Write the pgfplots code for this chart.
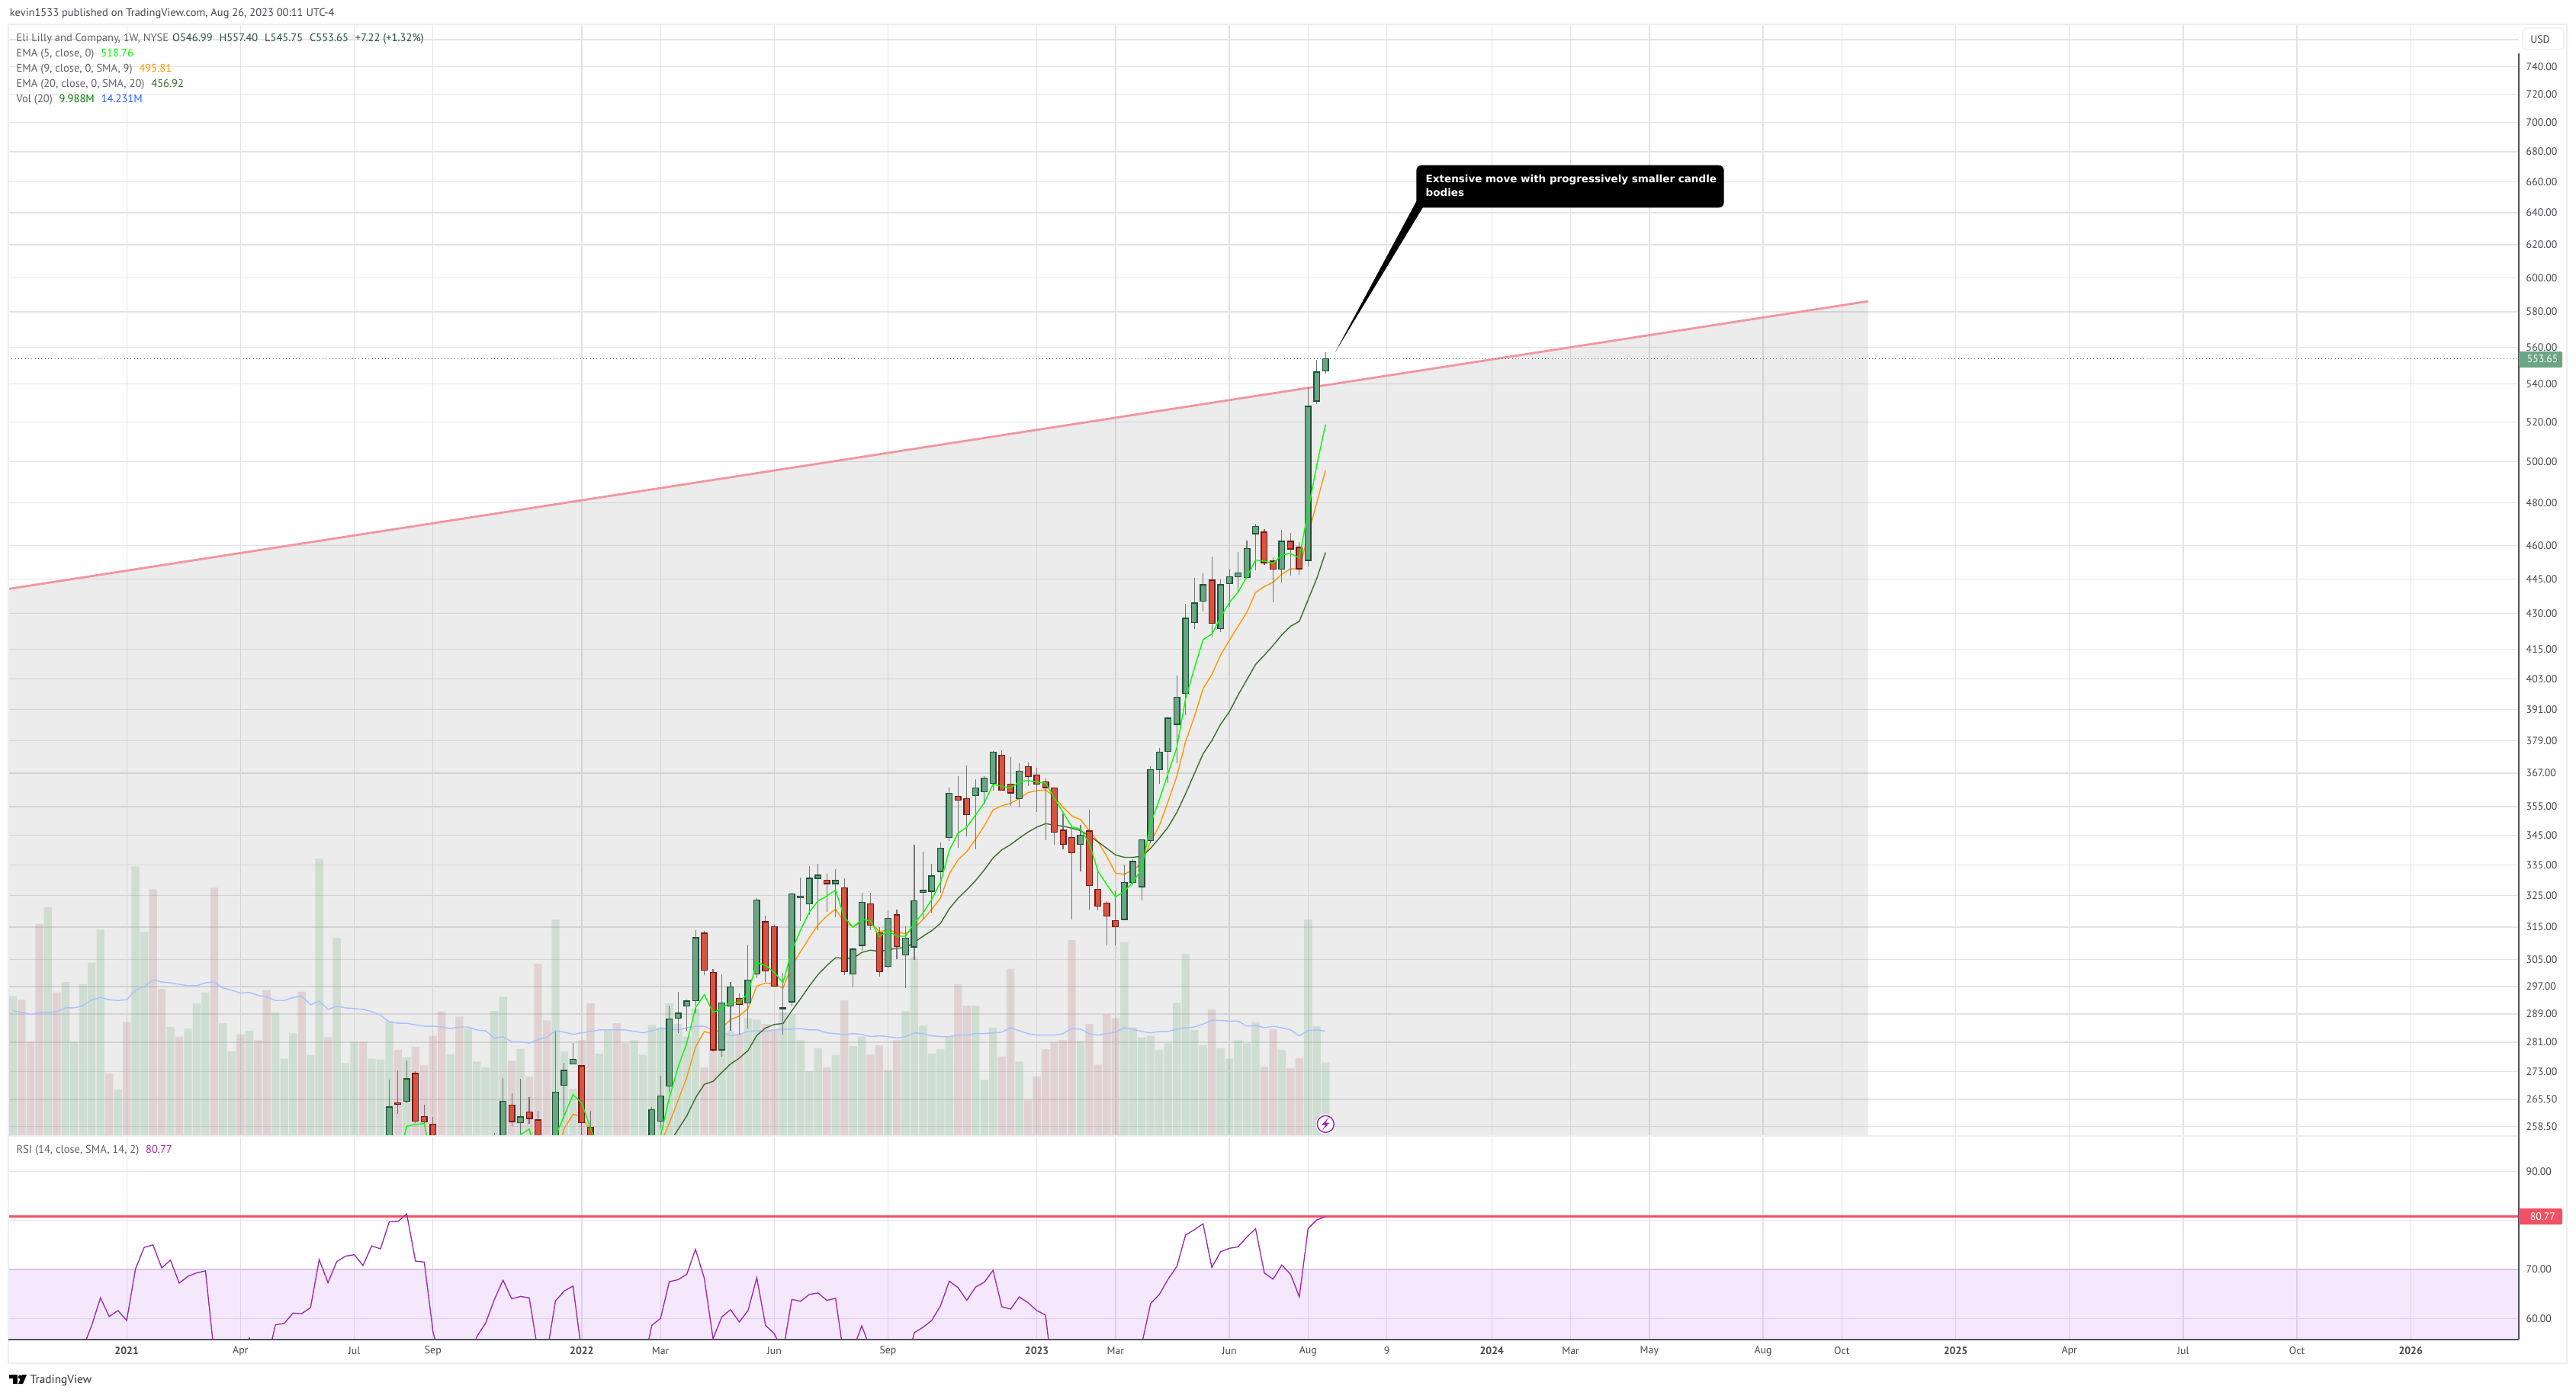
\documentclass[border=0pt]{standalone}
\usepackage{fontspec}
\setmainfont{PT Sans}
\newfontfamily\calloutfont{DejaVu Sans}
\usepackage{pgfplots}
\pgfplotsset{compat=1.18}
\definecolor{gridc}{RGB}{228,228,232}
\definecolor{txt}{RGB}{70,72,80}
\definecolor{axisc}{RGB}{80,83,94}
\definecolor{frame}{RGB}{236,238,245}
\definecolor{upf}{RGB}{107,165,131}
\definecolor{upb}{RGB}{30,83,55}
\definecolor{dnf}{RGB}{215,84,66}
\definecolor{dnb}{RGB}{115,25,20}
\definecolor{wick}{RGB}{115,115,120}
\definecolor{volg}{RGB}{86,166,106}
\definecolor{volr}{RGB}{176,106,111}
\definecolor{volma}{RGB}{41,98,255}
\definecolor{ema5}{RGB}{0,255,0}
\definecolor{ema9}{RGB}{255,152,0}
\definecolor{ema20}{RGB}{60,110,40}
\definecolor{rsi}{RGB}{156,39,176}
\definecolor{band}{RGB}{145,0,235}
\definecolor{rsired}{RGB}{242,80,100}
\definecolor{pink}{RGB}{242,150,160}
\newcommand{\smallf}{\fontsize{4.15pt}{5pt}\selectfont}
\newcommand{\headf}{\fontsize{4.35pt}{5pt}\selectfont}
\pgfplotsset{
  base/.style={scale only axis,width=987.6pt,xmin=-0.523,xmax=286.36,
    axis line style={draw=none},major tick length=0pt,minor tick length=0pt,
    tick style={draw=none}},
  hidden/.style={base,xtick=\empty,ytick=\empty},
  gridst/.style={grid=major,grid style={draw=gridc,line width=0.4pt}},
  weeks/.style={xtick={13,26,39,48,65,74,87,100,117,126,139,148,157,169,178,187,200,209,222,235,248,261,274}},
}
% week, body bottom, body top, high, low
\newcommand{\cnd}[7]{%
  \pgfmathsetmacro\xa{#3-0.33}\pgfmathsetmacro\xb{#3+0.33}%
  \addplot[wick,line width=0.33pt,forget plot] coordinates {(#3,#6)(#3,#7)};
  \addplot[draw=#2,fill=#1,line width=0.42pt,forget plot] coordinates {(\xa,#4)(\xb,#4)(\xb,#5)(\xa,#5)} -- cycle;
}
\newcommand{\U}[5]{\cnd{upf}{upb}{#1}{#2}{#3}{#4}{#5}}
\newcommand{\D}[5]{\cnd{dnf}{dnb}{#1}{#2}{#3}{#4}{#5}}
\begin{document}
\begin{tikzpicture}
\path[use as bounding box,fill=white] (0,0) rectangle (1013.4pt,-549pt);
% ---------- main pane: grid, area, trend line, price labels
\begin{axis}[base,gridst,weeks,at={(3.3pt,-447pt)},anchor=south west,height=437.4pt,
  ymode=log,ymin=256.04,ymax=771.7,xticklabels={},
  ytick={760,740,720,700,680,660,640,620,600,580,560,540,520,500,480,460,445,430,415,403,391,379,367,355,345,335,325,315,305,297,289,281,273,265.5,258.5},
  yticklabels={,740.00,720.00,700.00,680.00,660.00,640.00,620.00,600.00,580.00,560.00,540.00,520.00,500.00,480.00,460.00,445.00,430.00,415.00,403.00,391.00,379.00,367.00,355.00,345.00,335.00,325.00,315.00,305.00,297.00,289.00,281.00,273.00,265.50,258.50},
  yticklabel pos=right,
  yticklabel style={font=\smallf,text=txt,anchor=west,inner sep=0pt,xshift=2.7pt}]
\addplot[draw=none,fill=black,fill opacity=0.075] coordinates {(-0.523,440.6)(212,586.2)(212,256.04)(-0.523,256.04)} -- cycle;
\addplot[pink,line width=0.85pt] coordinates {(-0.523,440.6)(212,586.2)};
\addplot[upf!70!black,densely dotted,line width=0.3pt] coordinates {(-0.523,553.65)(286.36,553.65)};
\end{axis}
% ---------- volume
\begin{axis}[hidden,at={(3.3pt,-447pt)},anchor=south west,height=437.4pt,ymin=0,ymax=150.9]
\addplot[ybar,bar width=3.1pt,bar shift=0pt,draw=none,fill=volg,fill opacity=0.2] coordinates {
(0,19.0)(4,31.1)(6,20.9)(7,12.8)(8,20.6)(9,23.5)(10,28.0)(12,6.3)(14,36.6)(15,27.7)(18,14.8)(20,14.6)(21,18.0)(22,19.5)(24,15.3)(25,11.5)(27,14.3)(30,16.8)(31,10.5)(32,14.0)(34,11.0)(35,37.7)(37,26.9)(38,9.9)(39,12.8)(41,10.5)(42,10.4)(43,15.6)(45,10.7)(50,11.1)(52,14.6)(53,10.1)(54,9.3)(55,17.0)(56,18.9)(58,11.8)(62,29.4)(63,11.5)(64,6.4)(67,11.2)(68,14.4)(71,13.0)(72,11.0)(73,15.1)(74,14.8)(75,18.0)(76,15.2)(77,13.5)(78,17.3)(81,13.7)(82,14.3)(84,16.0)(85,15.8)(88,16.8)(89,16.5)(90,13.0)(91,8.8)(92,11.9)(94,11.0)(96,12.2)(97,13.5)(100,9.0)(102,17.0)(103,24.3)(104,15.0)(105,11.2)(106,11.8)(107,13.5)(110,17.7)(111,7.6)(112,14.7)(115,10.1)(122,12.9)(127,26.3)(128,14.7)(129,13.4)(130,13.6)(131,11.7)(132,12.6)(133,18.1)(134,24.7)(135,14.4)(136,12.3)(138,11.9)(139,10.5)(140,13.0)(141,12.6)(142,15.4)(145,11.7)(148,29.4)(149,14.9)(150,9.988)};
\addplot[ybar,bar width=3.1pt,bar shift=0pt,draw=none,fill=volr,fill opacity=0.2] coordinates {
(1,18.5)(2,12.8)(3,28.8)(5,19.5)(11,8.5)(13,15.5)(16,33.5)(17,20.0)(19,13.5)(23,33.7)(26,13.8)(28,13.0)(29,19.8)(33,19.6)(36,13.4)(40,12.8)(44,11.7)(46,12.1)(47,9.6)(48,13.6)(49,16.9)(51,16.2)(57,10.2)(59,8.1)(60,23.4)(61,15.7)(65,13.0)(66,18.0)(69,15.3)(70,12.6)(79,9.3)(80,11.6)(83,13.9)(86,15.2)(87,14.5)(93,9.3)(95,18.4)(98,11.1)(99,12.3)(101,13.0)(108,20.6)(109,17.7)(113,10.8)(114,22.7)(116,4.9)(117,8.1)(118,11.8)(119,12.7)(120,13.0)(121,26.6)(123,15.2)(124,9.7)(125,16.5)(126,16.0)(137,17.2)(143,9.4)(144,14.5)(146,9.2)(147,10.6)};
\addplot[volma!40!white,line width=0.42pt] coordinates {
(0,17.0)(1,16.8)(2,16.5)(3,16.8)(4,16.8)(5,16.9)(6,17.4)(7,17.4)(8,17.7)(9,18.5)(10,18.8)(11,18.5)(12,18.4)(13,18.5)(14,19.8)(15,20.3)(16,21.2)(17,20.9)(18,20.8)(19,20.6)(20,20.4)(21,20.4)(22,20.8)(23,20.9)(24,20.1)(25,19.8)(26,19.4)(27,19.5)(28,19.1)(29,18.9)(30,18.4)(31,18.4)(32,18.8)(33,19.0)(34,17.8)(35,18.3)(36,17.2)(37,17.6)(38,17.4)(39,17.3)(40,17.2)(41,16.9)(42,16.4)(43,15.5)(44,15.3)(45,15.3)(46,15.1)(47,14.9)(48,14.9)(49,14.8)(50,14.6)(51,14.8)(52,14.8)(53,14.4)(54,14.3)(55,13.3)(56,13.5)(57,12.8)(58,12.8)(59,12.6)(60,13.1)(61,13.4)(62,14.3)(63,14.1)(64,13.8)(65,14.0)(66,14.2)(67,14.4)(68,14.4)(69,14.4)(70,14.4)(71,14.2)(72,14.0)(73,14.3)(74,14.6)(75,14.5)(76,14.4)(77,14.7)(78,14.9)(79,14.9)(80,14.4)(81,14.1)(82,13.6)(83,13.8)(84,14.2)(85,14.3)(86,14.2)(87,14.4)(88,14.5)(89,14.5)(90,14.6)(91,14.4)(92,14.4)(93,14.0)(94,13.9)(95,13.8)(96,13.9)(97,13.8)(98,13.5)(99,13.6)(100,13.5)(101,13.3)(102,13.5)(103,14.0)(104,13.9)(105,13.6)(106,13.5)(107,13.5)(108,13.7)(109,13.7)(110,13.9)(111,13.9)(112,14.0)(113,14.1)(114,14.7)(115,14.3)(116,13.9)(117,13.7)(118,13.7)(119,13.7)(120,13.9)(121,14.6)(122,14.5)(123,13.9)(124,13.7)(125,13.9)(126,14.1)(127,14.7)(128,14.5)(129,14.2)(130,14.0)(131,14.2)(132,14.2)(133,14.5)(134,14.7)(135,14.8)(136,15.2)(137,15.7)(138,15.7)(139,15.6)(140,15.6)(141,14.9)(142,15.0)(143,14.7)(144,14.9)(145,14.7)(146,14.4)(147,13.6)(148,14.3)(149,14.4)(150,14.231)};
\end{axis}
% ---------- candles and moving averages
\begin{axis}[hidden,at={(3.3pt,-447pt)},anchor=south west,height=437.4pt,ymode=log,ymin=256.04,ymax=771.7]
\addplot[ema9,line width=0.42pt] coordinates {(62,250)(63,258)(64,261.6)(65,261.1)(66,257.3)(67,252)};
\addplot[ema9,line width=0.42pt] coordinates {(73,240)(74,254.1)(75,259.3)(76,265.2)(77,271.4)(78,279.7)(79,284)(80,283.3)(81,285)(82,287.4)(83,288.4)(84,290.6)(85,297.1)(86,298)(87,297.8)(88,296.5)(89,303.2)(90,307.4)(91,311.7)(92,315.7)(93,318.5)(94,320.7)(95,316.6)(96,315.1)(97,316.6)(98,316.6)(99,313.6)(100,314.1)(101,313.4)(102,313)(103,314.6)(104,317.5)(105,320.6)(106,324.3)(107,332.1)(108,336.8)(109,339.6)(110,343.7)(111,348.3)(112,353.9)(113,355.3)(114,356.2)(115,357.9)(116,360)(117,360.7)(118,360.9)(119,358.6)(120,354.8)(121,351.8)(122,350.5)(123,346.6)(124,342.8)(125,337.9)(126,332.3)(127,332)(128,333.4)(129,335.6)(130,342.8)(131,348.4)(132,356.8)(133,365.9)(134,378.7)(135,388.2)(136,399.1)(137,404.7)(138,412.6)(139,418.7)(140,424.6)(141,430.5)(142,439.1)(143,441.7)(144,443.5)(145,447.1)(146,449.5)(147,449.5)(148,464.9)(149,480.1)(150,495.81)};
\addplot[ema20,line width=0.42pt] coordinates {(74,235)(75,254.1)(76,257.7)(77,261.2)(78,265.9)(79,269.5)(80,270.3)(81,272.7)(82,275)(83,276.6)(84,278.7)(85,282.9)(86,285)(87,286)(88,286.3)(89,289.9)(90,293.4)(91,297.1)(92,300.5)(93,303.2)(94,305.6)(95,305.4)(96,305.4)(97,307.2)(98,307.9)(99,307.5)(100,308)(101,308.5)(102,308.7)(103,310.3)(104,312.2)(105,313.9)(106,316.2)(107,320.8)(108,324.2)(109,326.9)(110,329.9)(111,333.4)(112,337.4)(113,340.1)(114,341.9)(115,344.1)(116,346.2)(117,347.9)(118,349.1)(119,348.6)(120,348.2)(121,347.5)(122,346.7)(123,344.8)(124,342.8)(125,340.6)(126,338.4)(127,337.6)(128,337.6)(129,338)(130,340.6)(131,344.1)(132,347.9)(133,353)(134,359.6)(135,366.8)(136,374.1)(137,379.1)(138,385.3)(139,390.1)(140,396.6)(141,402.6)(142,408.8)(143,412.6)(144,416.6)(145,421)(146,424.6)(147,426.7)(148,435.9)(149,445.3)(150,456.92)};
\U{43}{250}{263.5}{270.8}{248}
\D{44}{264.2}{264.6}{273.3}{261.8}
\U{45}{265.0}{271}{276}{264.4}
\D{46}{259.9}{272.4}{273}{259.3}
\D{47}{259.6}{261}{264.1}{258.8}
\D{48}{254}{259.1}{260.9}{250}
\U{55}{250}{255}{256.8}{248}
\U{56}{252}{265}{271.2}{250}
\D{57}{259.7}{264}{267.1}{258.6}
\U{58}{259.5}{260.9}{271}{255}
\D{59}{260.5}{262.2}{266.1}{259.2}
\D{60}{252}{260.1}{262.5}{250}
\U{62}{252}{267.4}{284}{250}
\U{63}{269.2}{273.2}{275.3}{260.6}
\U{64}{275}{276.3}{280.8}{274.9}
\D{65}{259.4}{274.5}{274.5}{255}
\D{66}{252}{258.3}{262.5}{250}
\U{73}{252}{262.8}{263.5}{250}
\U{74}{259.8}{266.4}{271.8}{258}
\U{75}{269}{287.6}{291.4}{267.3}
\U{76}{287.8}{289.2}{295.4}{283.6}
\U{77}{291.3}{292.7}{293.2}{284.3}
\U{78}{292.8}{311.7}{314.1}{289.2}
\D{79}{301.9}{313.1}{313.9}{300.3}
\D{80}{278.9}{301.2}{302.2}{278.5}
\U{81}{278.9}{292.2}{300.5}{277.1}
\U{82}{291.3}{296.9}{298.3}{284.3}
\D{83}{291.8}{293.5}{294.9}{283.2}
\U{84}{292.2}{298.9}{309.6}{284.8}
\U{85}{300.7}{323.6}{324.2}{299.5}
\D{86}{301.6}{316.7}{318.7}{298.3}
\D{87}{297.1}{315.2}{315.7}{297.1}
\U{88}{290.5}{290.9}{301}{283.2}
\U{89}{292.5}{325.6}{325.9}{291.2}
\U{90}{324.4}{324.9}{331}{317}
\U{91}{322.4}{330.6}{334.7}{318.9}
\U{92}{330.6}{331.6}{335.4}{314.1}
\D{93}{328.9}{330.1}{332.2}{319.9}
\U{94}{328.9}{329.9}{333.7}{318.2}
\D{95}{301.3}{327.6}{330.7}{300.4}
\U{96}{300.7}{308.2}{308.7}{296.7}
\U{97}{309.3}{322.9}{325.9}{307.6}
\D{98}{315.6}{322.4}{325.9}{314.1}
\D{99}{301.3}{313.3}{315.1}{299.9}
\U{100}{303}{317.8}{320.2}{302.4}
\D{101}{309}{318.9}{320.5}{305.2}
\U{102}{306.4}{311.6}{315.3}{296.6}
\U{103}{308.9}{323.3}{341.9}{305}
\U{104}{326.1}{326.7}{339.4}{317.5}
\U{105}{326.4}{331.4}{335.5}{319.5}
\U{106}{332.9}{340.7}{342.6}{325.9}
\U{107}{344.3}{359.8}{361.9}{343.2}
\D{108}{357.4}{358.7}{366}{340.9}
\D{109}{352.3}{357.9}{369.8}{344.8}
\U{110}{359}{361.7}{364.9}{340.4}
\U{111}{360.3}{365.3}{366}{355.8}
\U{112}{363.3}{374.8}{375.2}{360.8}
\D{113}{360.9}{373.7}{375.5}{360.9}
\D{114}{359.9}{363}{373}{355.3}
\U{115}{357.9}{367.8}{370.7}{354.8}
\D{116}{365.8}{369.5}{371}{362.4}
\D{117}{363.1}{366.4}{369}{353.2}
\D{118}{361.8}{363.9}{365.1}{343.5}
\D{119}{346.2}{361.7}{361.9}{341.9}
\D{120}{341.9}{346.8}{352.5}{340.4}
\D{121}{339.2}{344.3}{347.9}{317.3}
\U{122}{341.9}{345.1}{348.6}{333}
\D{123}{328.3}{346.5}{353.9}{320.6}
\D{124}{321.6}{327.1}{332.9}{320.4}
\D{125}{318.5}{322.6}{323.3}{309.4}
\D{126}{315.1}{317}{326.7}{309.4}
\U{127}{317.4}{329.3}{335.2}{317.4}
\U{128}{329.3}{336.2}{337}{328.3}
\U{129}{327.9}{343.5}{343.5}{323.5}
\U{130}{343.3}{368.4}{369.6}{342.3}
\U{131}{368.4}{374.8}{376.4}{363.2}
\U{132}{375.1}{387.6}{388.2}{363.5}
\U{133}{385.3}{395.8}{404.4}{370.7}
\U{134}{397.3}{427.9}{434.2}{388.8}
\U{135}{426.2}{434.5}{445.5}{423.3}
\U{136}{435.3}{442.4}{447.5}{431}
\D{137}{425.8}{444.4}{455}{420.1}
\U{138}{423.7}{442.4}{444.8}{422.2}
\U{139}{442.9}{446}{449.6}{432.7}
\U{140}{445.9}{447.7}{457.1}{439.1}
\U{141}{445.7}{458.7}{462.3}{445.7}
\U{142}{465.4}{468.9}{470}{449}
\D{143}{452.2}{466.1}{467.6}{451.3}
\D{144}{449.3}{452.9}{454.7}{434.7}
\U{145}{449.3}{461.9}{467.2}{443.5}
\D{146}{458.4}{461.9}{465.9}{446.5}
\D{147}{449.5}{459.1}{461.6}{446.8}
\U{148}{453.3}{528.1}{538.2}{450.7}
\U{149}{531}{546.4}{553}{529.4}
\U{150}{546.99}{553.65}{557.40}{545.75}
\addplot[ema5,line width=0.42pt] coordinates {(44,250)(45,258.5)(46,259)(47,259.2)(48,248)};
\addplot[ema5,line width=0.42pt] coordinates {(57,250)(58,256.4)(59,257.8)(60,250)};
\addplot[ema5,line width=0.42pt] coordinates {(61,248)(62,256)(63,261.3)(64,266.8)(65,264.5)(66,258)(67,252)};
\addplot[ema5,line width=0.42pt] coordinates {(73,245)(74,256)(75,265.9)(76,274.1)(77,280.8)(78,290.8)(79,294.6)(80,289.4)(81,290.5)(82,292.5)(83,292.3)(84,294.9)(85,304.2)(86,303.2)(87,301.2)(88,298.1)(89,307.8)(90,314.1)(91,319.7)(92,323.3)(93,324.9)(94,326.8)(95,318.1)(96,315)(97,317.4)(98,317)(99,312)(100,313.9)(101,312.2)(102,312.2)(103,316.2)(104,319.5)(105,323.8)(106,329.4)(107,340)(108,345.8)(109,347.9)(110,352.1)(111,356.4)(112,363)(113,362.3)(114,361.7)(115,363.9)(116,364.4)(117,363.8)(118,363.5)(119,358.1)(120,353)(121,348)(122,347.2)(123,342.3)(124,332.9)(125,328.6)(126,324.6)(127,326.4)(128,329.4)(129,333.8)(130,349.1)(131,357.5)(132,366.8)(133,376.6)(134,395.1)(135,407.2)(136,419)(137,421.3)(138,428.3)(139,434.7)(140,439.2)(141,445.9)(142,453.4)(143,453)(144,451.9)(145,455.7)(146,456.4)(147,454.3)(148,476.2)(149,498.3)(150,518.76)};
\end{axis}
% ---------- RSI pane
\begin{axis}[base,gridst,weeks,at={(3.3pt,-527.1pt)},anchor=south west,height=80.1pt,ymin=55.69,ymax=97.2,
  xticklabels={\textbf{2021},Apr,Jul,Sep,\textbf{2022},Mar,Jun,Sep,\textbf{2023},Mar,Jun,Aug,9,\textbf{2024},Mar,May,Aug,Oct,\textbf{2025},Apr,Jul,Oct,\textbf{2026}},
  xticklabel style={font=\smallf,text=txt,anchor=center,inner sep=0pt,yshift=-4.5pt},
  ytick={90,80,70,60},yticklabels={90.00,80.00,70.00,60.00},yticklabel pos=right,
  yticklabel style={font=\smallf,text=txt,anchor=west,inner sep=0pt,xshift=2.7pt}]
\addplot[draw=none,fill=band,fill opacity=0.09] coordinates {(-0.523,70)(286.36,70)(286.36,55.69)(-0.523,55.69)} -- cycle;
\addplot[band,opacity=0.1,line width=0.36pt] coordinates {(-0.523,70)(286.36,70)};
\addplot[rsired,line width=0.75pt] coordinates {(-0.523,80.77)(286.36,80.77)};
\addplot[rsi,line width=0.4pt] coordinates {(8,54)(9,58.6)(10,64.2)(11,60.4)(12,61.6)(13,59.6)(14,70.1)(15,74.5)(16,75)(17,70.3)(18,71.9)(19,67.2)(20,68.6)(21,69.3)(22,69.7)(23,52.7)(24,50)(25,50)(26,52)(27,56)(28,52)(29,51)(30,58.7)(31,59)(32,61.1)(33,61)(34,62.2)(35,72)(36,67.3)(37,71.6)(38,72.7)(39,73)(40,70.8)(41,74.8)(42,74.2)(43,79.7)(44,79.8)(45,81.3)(46,71.7)(47,71.5)(48,57.3)(49,50)(50,50)(51,50)(52,50)(53,56.3)(54,59)(55,63.8)(56,67.8)(57,64)(58,64.5)(59,64.2)(60,53.2)(61,52.7)(62,63.6)(63,65.6)(64,66.6)(65,53)(66,50)(67,50)(68,50)(69,50)(70,50)(71,50)(72,50)(73,58.6)(74,60)(75,67.5)(76,67.9)(77,69)(78,74.1)(79,68.2)(80,55.9)(81,60.3)(82,61.8)(83,59.3)(84,61.6)(85,68.3)(86,58.6)(87,56.9)(88,53.2)(89,63.9)(90,63.5)(91,64.9)(92,65.2)(93,63.7)(94,64.1)(95,51.7)(96,53.7)(97,58.5)(98,53.7)(99,50)(100,50)(101,50)(102,50)(103,57.1)(104,58.2)(105,59.6)(106,62.6)(107,67.6)(108,66.3)(109,63.7)(110,66.4)(111,67.4)(112,69.8)(113,62.4)(114,61.9)(115,64.4)(116,63.2)(117,61.6)(118,60.7)(119,45.5)(120,45)(121,45)(122,45)(123,45)(124,45)(125,45)(126,45)(127,45)(128,45)(129,54.8)(130,63)(131,64.9)(132,68)(133,70.6)(134,77)(135,78.1)(136,79.3)(137,70.4)(138,73.6)(139,74.3)(140,74.6)(141,76.6)(142,78.3)(143,69.3)(144,68)(145,70.9)(146,69)(147,64.4)(148,78.3)(149,80.1)(150,80.77)};
\end{axis}
% ---------- annotations in image pixels
\begin{scope}[x=0.3pt,y=-0.3pt]
\draw[frame,line width=0.7pt] (11,32) rectangle (3366,1788);
\draw[frame,line width=0.5pt] (11,1490) -- (3303,1490);
\draw[axisc,line width=0.4pt] (3303,70) -- (3303,1757);
\draw[axisc,line width=0.4pt] (11,1757) -- (3303,1757);
\draw[frame,fill=white,line width=0.4pt,rounded corners=1.5pt] (3308,37) rectangle (3362,65);
\node[font=\smallf,text=txt,inner sep=0pt] at (3331,52) {USD};
\fill[upf,rounded corners=0.6pt] (3303,461) rectangle (3360,482);
\node[font=\smallf,text=white,anchor=west,inner sep=0pt] at (3313,471) {553.65};
\fill[rsired,rounded corners=0.6pt] (3303,1585) rectangle (3360,1606);
\node[font=\smallf,text=white,anchor=west,inner sep=0pt] at (3317,1595.5) {80.77};
% callout
\fill[black] (1857.3,264) -- (1865.7,272.3) -- (1751,461.7) -- cycle;
\fill[black,rounded corners=2pt] (1857.3,216.7) rectangle (2260.6,272.3);
\node[font=\calloutfont\bfseries\fontsize{4.05pt}{5pt}\selectfont,text=white,anchor=west,inner sep=0pt] at (1869,236) {Extensive move with progressively smaller candle};
\node[font=\calloutfont\bfseries\fontsize{4.05pt}{5pt}\selectfont,text=white,anchor=west,inner sep=0pt] at (1869,252.7) {bodies};
% lightning icon
\fill[white] (1738.3,1474.3) circle (13);
\draw[rsi,line width=0.45pt] (1738.3,1474.3) circle (11);
\fill[rsi] (1742,1466) -- (1733,1475.5) -- (1738,1475.5) -- (1734,1482.5) -- (1743.5,1472.5) -- (1738.5,1472.5) -- cycle;
% texts
\node[font=\headf,text=txt,anchor=west,inner sep=0pt] at (12.3,18) {kevin1533 published on TradingView.com, Aug 26, 2023 00:11 UTC-4};
\node[font=\headf,text=txt!85,anchor=west,inner sep=0pt] at (21,50.7) {Eli Lilly and Company, 1W, NYSE\hspace{1.5pt}\textcolor{upb}{O546.99\hspace{1.5pt} H557.40\hspace{1.5pt} L545.75\hspace{1.5pt} C553.65\hspace{1.5pt} +7.22 (+1.32\%)}};
\node[font=\headf,text=txt!85,anchor=west,inner sep=0pt] at (21,70.7) {EMA (5, close, 0)\hspace{1.5pt} \textcolor{ema5}{518.76}};
\node[font=\headf,text=txt!85,anchor=west,inner sep=0pt] at (21,90.7) {EMA (9, close, 0, SMA, 9)\hspace{1.5pt} \textcolor{ema9}{495.81}};
\node[font=\headf,text=txt!85,anchor=west,inner sep=0pt] at (21,110.7) {EMA (20, close, 0, SMA, 20)\hspace{1.5pt} \textcolor{ema20}{456.92}};
\node[font=\headf,text=txt!85,anchor=west,inner sep=0pt] at (21,130.7) {Vol (20)\hspace{1.5pt} \textcolor{green!50!black}{9.988M}\hspace{1.5pt} \textcolor{volma}{14.231M}};
\node[font=\headf,text=txt!85,anchor=west,inner sep=0pt] at (21,1509) {RSI (14, close, SMA, 14, 2)\hspace{1.5pt} \textcolor{rsi}{80.77}};
% logo
\fill[black] (12,1803) rectangle (23,1808);
\fill[black] (17,1803) rectangle (22.5,1815);
\fill[black] (26.5,1806) circle (2.6);
\fill[black] (29,1803) -- (35,1803) -- (30,1815) -- (24,1815) -- cycle;
\node[font=\fontsize{4.6pt}{6pt}\selectfont,text=txt!70!black,anchor=west,inner sep=0pt] at (39,1811) {TradingView};
\end{scope}
\end{tikzpicture}
\end{document}
